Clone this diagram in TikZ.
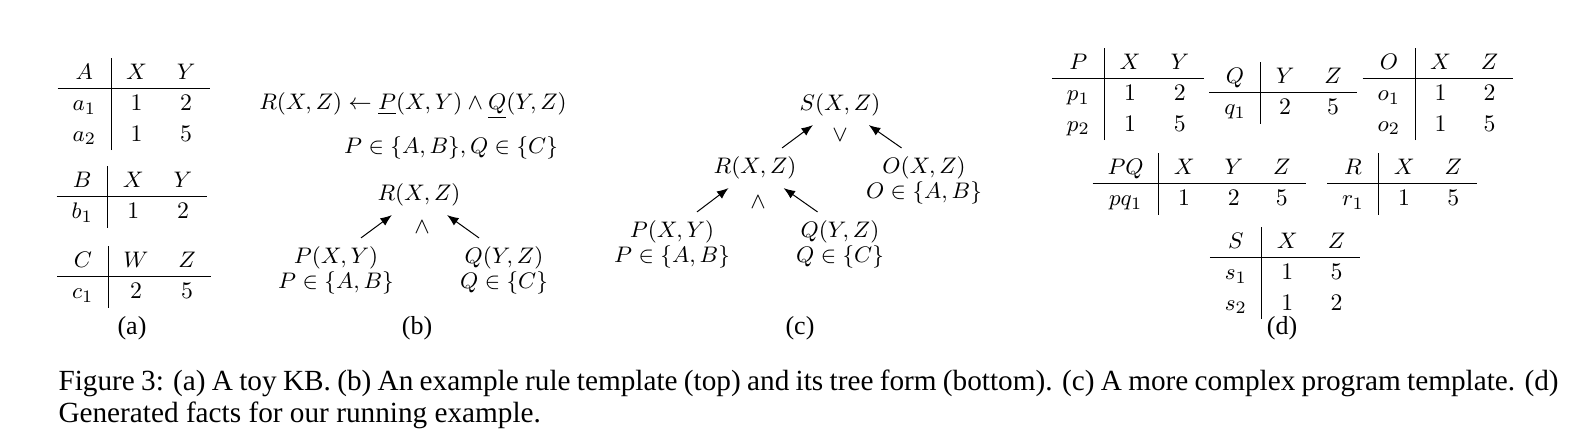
\documentclass[tikz,border=0pt]{standalone}
\usepackage[no-math]{fontspec}
\usetikzlibrary{arrows.meta}
\newfontfamily\capfont{Liberation Serif}
\setlength{\tabcolsep}{6pt}
\begin{document}
\begin{tikzpicture}[x=0.4pt,y=-0.4pt,
  every node/.style={font=\fontsize{9.5}{12.2}\selectfont},
  kbtable/.style={inner sep=0pt},
  leaf/.style={align=center, font=\fontsize{9.5}{10}\selectfont},
  sublabel/.style={font=\capfont\fontsize{10.4}{12.4}\selectfont},
  arr/.style={-{Latex[length=4.6pt,width=3.6pt]}}]
  \useasboundingbox (0,0) rectangle (1583,438);
  \node[kbtable] (tabA) at (134,104) {\begin{tabular}{c|cc} $A$ & $X$ & $Y$ \\ \hline $a_1$ & 1 & 2 \\ $a_2$ & 1 & 5 \end{tabular}};
  \node[kbtable] (tabB) at (132,197) {\begin{tabular}{c|cc} $B$ & $X$ & $Y$ \\ \hline $b_1$ & 1 & 2 \end{tabular}};
  \node[kbtable] (tabC) at (134,277) {\begin{tabular}{c|cc} $C$ & $W$ & $Z$ \\ \hline $c_1$ & 2 & 5 \end{tabular}};
  \node[sublabel] (labA) at (132,328) {(a)};
  \node (rule) at (413,106) {$R(X,Z) \leftarrow \underline{P}(X,Y) \wedge \underline{Q}(Y,Z)$};
  \node (ruleDom) at (451,148) {$P \in \{A,B\}, Q \in \{C\}$};
  \node (bR) at (419,195) {$R(X,Z)$};
  \node (bAnd) at (422,227) {$\wedge$};
  \node[leaf] (bP) at (336,270.5) {$P(X,Y)$\\$P \in \{A,B\}$};
  \node[leaf] (bQ) at (504,270.5) {$Q(Y,Z)$\\$Q \in \{C\}$};
  \draw[arr] ([xshift=10pt]bP.north) -- (bR);
  \draw[arr] ([xshift=-10pt]bQ.north) -- (bR);
  \node[sublabel] (labB) at (417,328) {(b)};
  \node (cS) at (840,105) {$S(X,Z)$};
  \node (cOr) at (840,135) {$\vee$};
  \node (cR) at (755,168) {$R(X,Z)$};
  \node[leaf] (cO) at (924,180.5) {$O(X,Z)$\\$O \in \{A,B\}$};
  \node (cAnd) at (758,202) {$\wedge$};
  \node[leaf] (cP) at (672,244.5) {$P(X,Y)$\\$P \in \{A,B\}$};
  \node[leaf] (cQ) at (840,244.5) {$Q(Y,Z)$\\$Q \in \{C\}$};
  \draw[arr] (cR) -- (cS);
  \draw[arr] ([xshift=-9pt]cO.north) -- (cS);
  \draw[arr] ([xshift=10pt]cP.north) -- (cR);
  \draw[arr] ([xshift=-9pt]cQ.north) -- (cR);
  \node[sublabel] (labC) at (800,328) {(c)};
  \node[kbtable] (tabP) at (1128,94) {\begin{tabular}{c|cc} $P$ & $X$ & $Y$ \\ \hline $p_1$ & 1 & 2 \\ $p_2$ & 1 & 5 \end{tabular}};
  \node[kbtable] (tabQ) at (1283,93) {\begin{tabular}{c|cc} $Q$ & $Y$ & $Z$ \\ \hline $q_1$ & 2 & 5 \end{tabular}};
  \node[kbtable] (tabO) at (1438,94) {\begin{tabular}{c|cc} $O$ & $X$ & $Z$ \\ \hline $o_1$ & 1 & 2 \\ $o_2$ & 1 & 5 \end{tabular}};
  \node[kbtable] (tabPQ) at (1199,184) {\begin{tabular}{c|ccc} $PQ$ & $X$ & $Y$ & $Z$ \\ \hline $pq_1$ & 1 & 2 & 5 \end{tabular}};
  \node[kbtable] (tabR) at (1402,184) {\begin{tabular}{c|cc} $R$ & $X$ & $Z$ \\ \hline $r_1$ & 1 & 5 \end{tabular}};
  \node[kbtable] (tabS) at (1285,273) {\begin{tabular}{c|cc} $S$ & $X$ & $Z$ \\ \hline $s_1$ & 1 & 5 \\ $s_2$ & 1 & 2 \end{tabular}};
  \node[sublabel] (labD) at (1282,328) {(d)};
  \node[anchor=base west, inner sep=0pt, text width=600pt, align=justify,
    font=\capfont\fontsize{11.7}{12.4}\selectfont] (caption) at (58,391) {Figure 3: (a) A toy KB. (b) An example rule template (top) and its tree form (bottom). (c) A more complex program template. (d)\linebreak Generated facts for our running example.};
\end{tikzpicture}
\end{document}
